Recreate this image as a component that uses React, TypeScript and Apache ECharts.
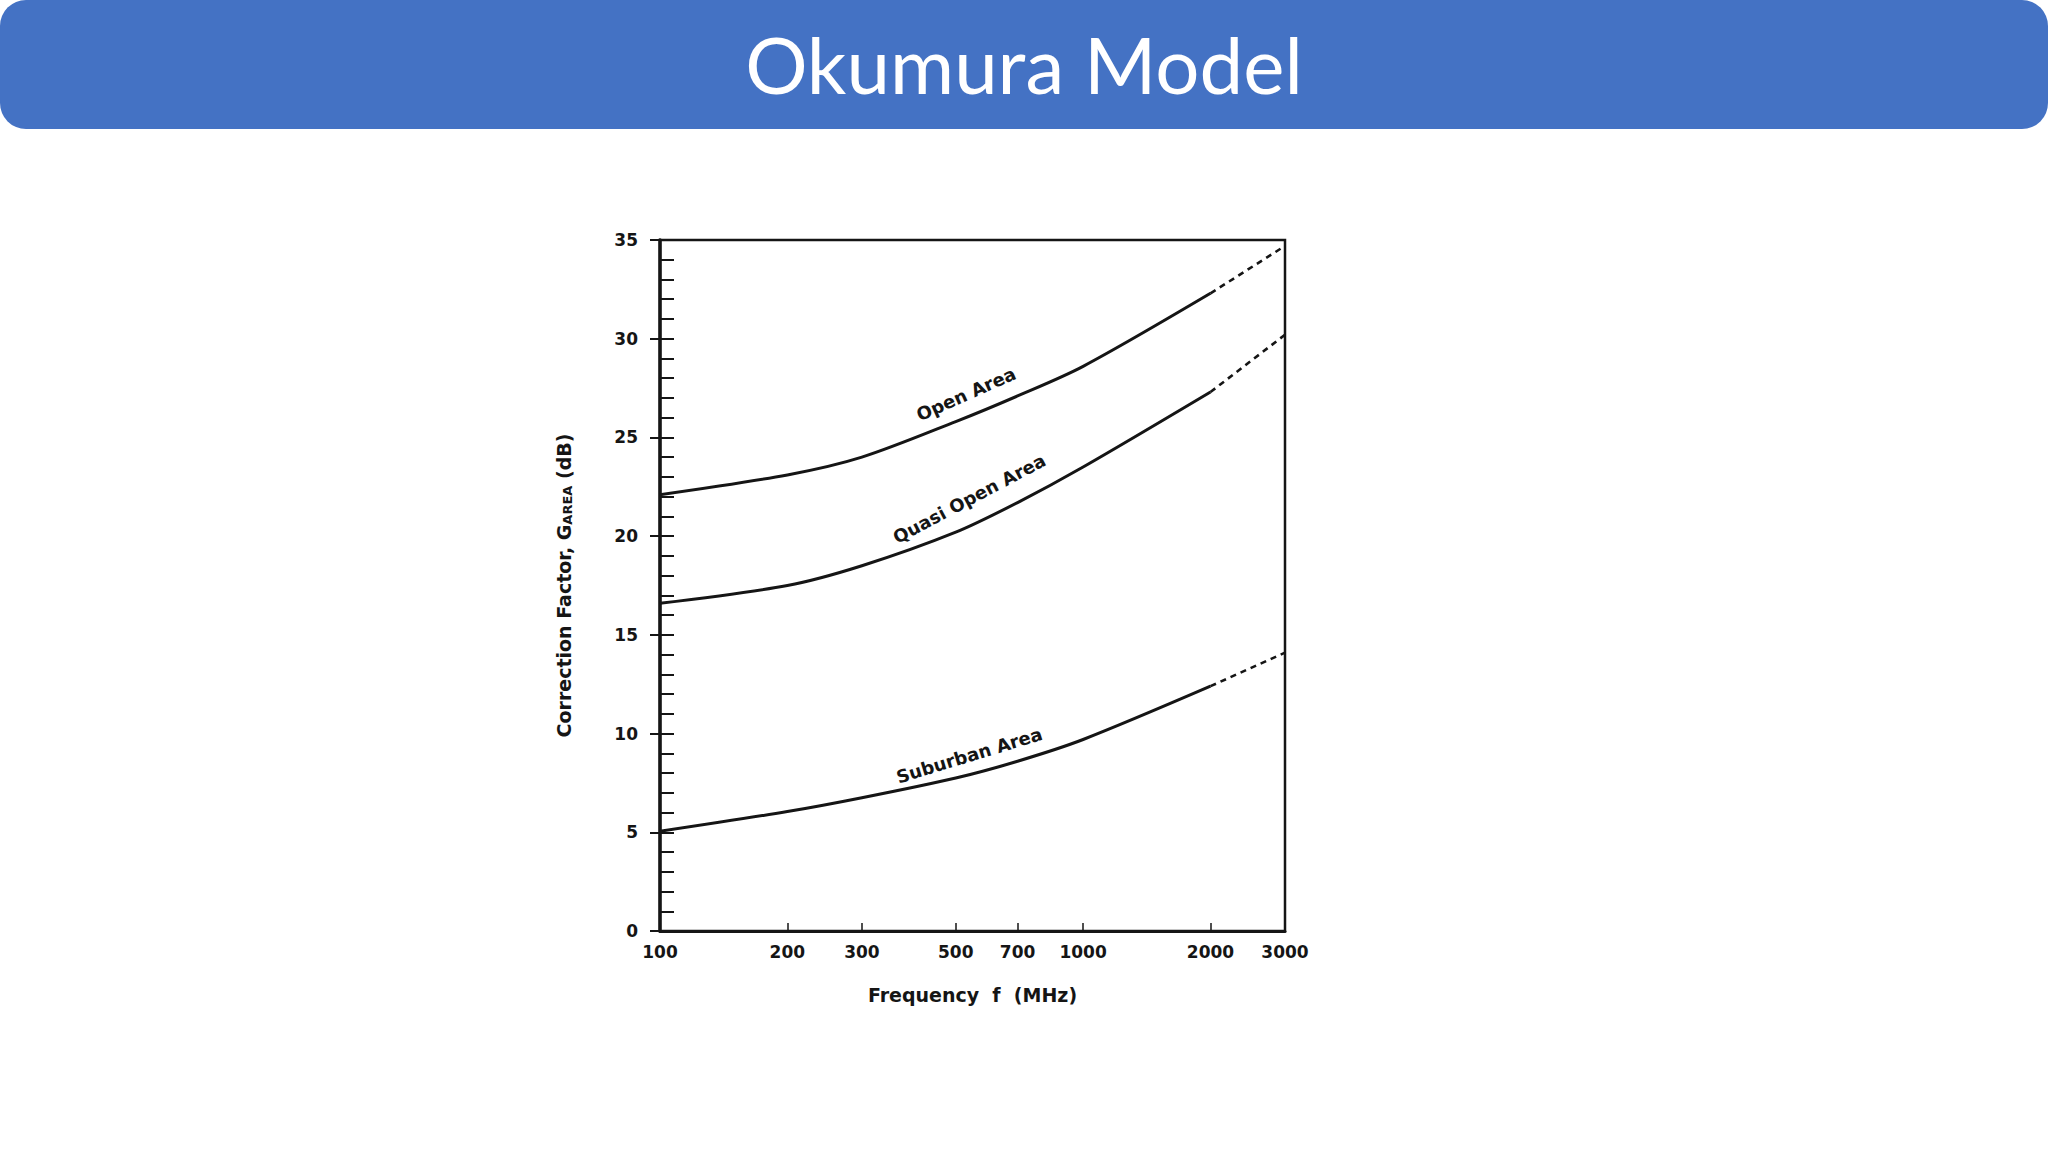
import React, { useEffect, useRef } from "react";
import * as echarts from "echarts";

// ---- data ----
const freqs = [100, 200, 300, 500, 700, 1000, 2000];
const openArea = [22.1, 23.1, 24.0, 25.8, 27.1, 28.6, 32.3];
const quasiOpenArea = [16.6, 17.5, 18.5, 20.2, 21.7, 23.5, 27.3];
const suburbanArea = [5.05, 6.05, 6.75, 7.75, 8.6, 9.7, 12.4];

const extFreqs = [2000, 3000];
const openAreaExt = [32.3, 34.7];
const quasiOpenAreaExt = [27.3, 30.2];
const suburbanAreaExt = [12.4, 14.1];

const xTickLabels = [100, 200, 300, 500, 700, 1000, 2000, 3000];
const yMin = 0;
const yMax = 35;

const curveNames = ["Open Area", "Quasi Open Area", "Suburban Area"];
const labelFreqs = [529, 538, 538];
const labelValues = [27.2, 21.9, 8.9];
const labelAngles = [24, 28, 17];

const TITLE = "Okumura Model";
const X_NAME = "Frequency  f  (MHz)";

const FONT = "DejaVu Sans";
const INK = "#151515";

function pts(xs: number[], ys: number[]) {
  return xs.map((f, i) => [Math.log10(f), ys[i]]);
}

export default function App() {
  const ref = useRef<HTMLDivElement>(null);

  useEffect(() => {
    if (!ref.current) return;
    const chart = echarts.init(ref.current, undefined, { renderer: "svg" });

    const solidStyle = { color: INK, width: 3 };
    const dashStyle = { color: INK, width: 2.6, type: [6, 5] as any };

    const mkSolid = (name: string, ys: number[]) => ({
      type: "line",
      name,
      data: pts(freqs, ys),
      showSymbol: false,
      smooth: 0.3,
      lineStyle: solidStyle,
      silent: true,
    });
    const mkDash = (name: string, ys: number[]) => ({
      type: "line",
      name: name + " (ext)",
      data: pts(extFreqs, ys),
      showSymbol: false,
      lineStyle: dashStyle,
      silent: true,
    });

    const xTickVals = xTickLabels.map((v) => Math.log10(v));

    const option: any = {
      animation: false,
      backgroundColor: "#ffffff",
      grid: {
        left: 660,
        top: 240,
        width: 625,
        height: 691,
        show: true,
        borderColor: INK,
        borderWidth: 2.5,
        backgroundColor: "transparent",
      },
      xAxis: {
        type: "value",
        min: Math.log10(xTickLabels[0]),
        max: Math.log10(xTickLabels[xTickLabels.length - 1]),
        axisLine: { show: true, lineStyle: { color: INK, width: 3 } },
        axisTick: {
          show: true,
          inside: true,
          length: 8,
          customValues: xTickVals,
          lineStyle: { color: INK, width: 1.5 },
        },
        axisLabel: {
          customValues: xTickVals,
          formatter: (v: number) => String(Math.round(Math.pow(10, v))),
          color: INK,
          fontFamily: FONT,
          fontWeight: "bold",
          fontSize: 17,
          margin: 12,
        },
        splitLine: { show: false },
        name: X_NAME,
        nameLocation: "middle",
        nameGap: 54,
        nameTextStyle: { color: INK, fontFamily: FONT, fontWeight: "bold", fontSize: 19 },
      },
      yAxis: [
        {
          type: "value",
          min: yMin,
          max: yMax,
          interval: 5,
          position: "left",
          axisLine: { show: true, lineStyle: { color: INK, width: 3.5 } },
          axisTick: { show: true, inside: false, length: 10, lineStyle: { color: INK, width: 2 } },
          axisLabel: {
            color: INK,
            fontFamily: FONT,
            fontWeight: "bold",
            fontSize: 17,
            margin: 22,
          },
          splitLine: { show: false },
          name: "Correction Factor, G{s|AREA} (dB)",
          nameLocation: "middle",
          nameGap: 86,
          nameRotate: 90,
          nameTextStyle: {
            color: INK,
            fontFamily: FONT,
            fontWeight: "bold",
            fontSize: 19,
            rich: {
              s: {
                color: INK,
                fontFamily: FONT,
                fontWeight: "bold",
                fontSize: 13,
                padding: [7, 0, 0, 0],
              },
            },
          },
        },
        {
          type: "value",
          min: yMin,
          max: yMax,
          interval: 1,
          position: "left",
          offset: 0,
          axisLine: { show: false },
          axisTick: { show: true, inside: true, length: 14, lineStyle: { color: INK, width: 2 } },
          axisLabel: { show: false },
          splitLine: { show: false },
        },
      ],
      series: [
        mkSolid(curveNames[0], openArea),
        mkDash(curveNames[0], openAreaExt),
        mkSolid(curveNames[1], quasiOpenArea),
        mkDash(curveNames[1], quasiOpenAreaExt),
        mkSolid(curveNames[2], suburbanArea),
        mkDash(curveNames[2], suburbanAreaExt),
      ],
      graphic: [
        {
          id: "header",
          type: "rect",
          shape: { x: 0, y: 0, width: 2048, height: 129, r: 26 },
          style: { fill: "#4472C4" },
          silent: true,
        },
        {
          id: "title",
          type: "text",
          x: 1024,
          y: 64,
          style: {
            text: TITLE,
            fill: "#ffffff",
            fontFamily: "Lato",
            fontSize: 78,
            align: "center",
            verticalAlign: "middle",
          },
          silent: true,
        },
      ],
    };

    chart.setOption(option);

    const labels = curveNames.map((name, i) => {
      const p = chart.convertToPixel({ gridIndex: 0 }, [
        Math.log10(labelFreqs[i]),
        labelValues[i],
      ]) as number[];
      return {
        id: "lbl" + i,
        type: "text",
        x: p[0],
        y: p[1],
        rotation: (labelAngles[i] * Math.PI) / 180,
        style: {
          text: name,
          fill: INK,
          fontFamily: FONT,
          fontWeight: "bold",
          fontSize: 18,
          align: "center",
          verticalAlign: "middle",
        },
        silent: true,
      };
    });
    chart.setOption({ graphic: labels });

    return () => chart.dispose();
  }, []);

  return (
    <div
      ref={ref}
      style={{
        position: "fixed",
        left: 0,
        top: 0,
        width: 2048,
        height: 1152,
        background: "#ffffff",
      }}
    />
  );
}
